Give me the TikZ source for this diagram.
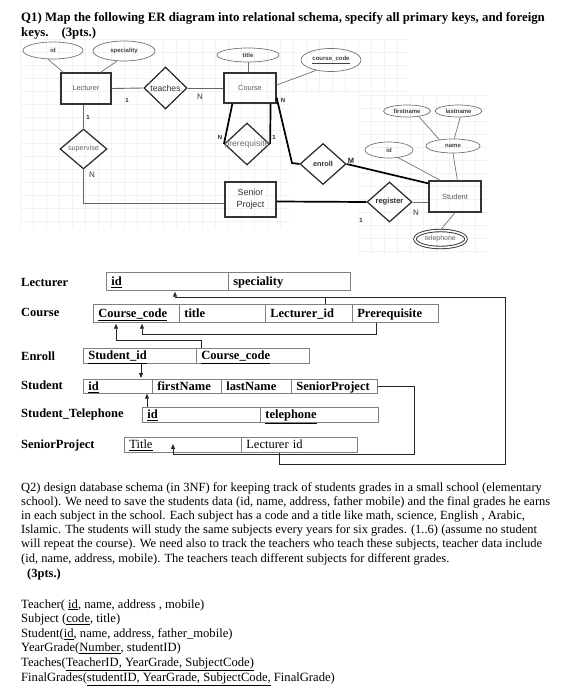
\documentclass[tikz,border=0pt]{standalone}
\usepackage{fontspec}
\setmainfont{Liberation Serif}
\newfontfamily\ersans{Liberation Sans}
\usetikzlibrary{shapes.geometric,arrows.meta,calc}
\newcommand\fsz[1]{\fontsize{#1}{#1}\selectfont}
\begin{document}
\begin{tikzpicture}[x=1pt,y=-1pt,
  ent/.style={draw=black!80, line width=1.2pt, rectangle, inner sep=0pt, font=\ersans\fsz{7.3}, text=black!65},
  rel/.style={draw=black!85, line width=1.2pt, diamond, inner sep=0pt},
  reltext/.style={inner sep=0pt, font=\ersans\fsz{8.6}, text=black!80},
  attr/.style={draw=black!55, line width=0.7pt, ellipse, inner sep=0pt, font=\ersans\bfseries\fsz{6}, text=black!75},
  aline/.style={draw=black!55, line width=0.7pt},
  rline/.style={draw=black!60, line width=0.9pt},
  tline/.style={draw=black, line width=1.7pt},
  card/.style={font=\ersans\fsz{8}, text=black!80, inner sep=0pt},
  one/.style={font=\ersans\bfseries\fsz{6}, text=black!85, inner sep=0pt},
  cell/.style={draw=black!50, line width=0.7pt, anchor=north west, inner xsep=5pt, inner ysep=0pt, align=left, text height=9.5pt, text depth=1.5pt, font=\bfseries\fsz{12.5}},
  tlabel/.style={anchor=base west, inner sep=0pt, font=\bfseries\fsz{12.5}},
  fk/.style={draw=black!85, line width=0.8pt},
  fka/.style={fk, -{Triangle[length=5pt,width=4pt]}},
  para/.style={anchor=base west, inner sep=0pt, font=\fsz{12.5}},
  lst/.style={anchor=base west, inner sep=0pt, font=\fsz{12.6}},
  gridbg/.style={draw=black!5, line width=0.4pt},
]
\useasboundingbox (0,0) rectangle (566,700);
\fill[white] (0,0) rectangle (566,700);

% faint background grid of the screenshot
\foreach \gx in {20,33,...,290} \draw[gridbg] (\gx,39) -- (\gx,228);
\foreach \gy in {39,52,...,228} \draw[gridbg] (20,\gy) -- (290,\gy);
\foreach \gx in {293,306,...,408} \draw[gridbg] (\gx,39) -- (\gx,93);
\foreach \gy in {39,52,...,93} \draw[gridbg] (290,\gy) -- (408,\gy);
\foreach \gx in {358,371,...,487} \draw[gridbg] (\gx,95) -- (\gx,254);
\foreach \gy in {95,108,...,254} \draw[gridbg] (358,\gy) -- (487,\gy);

% ---------- title ----------
\node[para, font=\bfseries\fsz{12.8}] (q1a) at (21,22) {Q1) Map the following ER diagram into relational schema, specify all primary keys, and foreign};
\node[para, font=\bfseries\fsz{12.8}] (q1b) at (21,37) {keys.\hspace{13pt}(3pts.)};

% ---------- ER diagram ----------
\node[attr, minimum width=60pt, minimum height=17pt] (idL) at (53,50.5) {id};
\node[attr, minimum width=62pt, minimum height=20pt] (specL) at (124,51) {speciality};
\node[ent, minimum width=50pt, minimum height=31pt] (lect) at (86,88.5) {Lecturer};
\node[rel, minimum width=43pt, minimum height=42pt] (teaches) at (165.5,88) {};
\node[reltext] (teachesT) at (teaches.center) {teaches};
\node[ent, minimum width=52pt, minimum height=30pt] (course) at (250,88) {Course};
\node[attr, minimum width=62pt, minimum height=14pt] (titleA) at (248,55) {title};
\node[attr, minimum width=60pt, minimum height=23pt] (ccA) at (331,60) {\underline{course\_code}};
\node[rel, minimum width=45pt, minimum height=42pt] (prereq) at (247,144) {};
\node[reltext, text=black!55] (prereqT) at (prereq.center) {prerequisite};
\node[rel, minimum width=47pt, minimum height=40pt] (superv) at (83.5,149) {};
\node[reltext, font=\ersans\fsz{7.2}, text=black!60] (supervT) at (superv.center) {supervise};
\node[ent, minimum width=51pt, minimum height=35pt, align=center, font=\ersans\fontsize{8.9}{12}\selectfont, text=black!80] (sp) at (250.5,199.5) {Senior\\Project};
\node[rel, minimum width=46pt, minimum height=41pt] (enroll) at (323,164) {};
\node[reltext, font=\ersans\bfseries\fsz{7.3}] (enrollT) at (enroll.center) {enroll};
\node[rel, minimum width=45pt, minimum height=40pt] (register) at (389.5,202) {};
\node[reltext, font=\ersans\bfseries\fsz{7.6}] (registerT) at (register.center) {register};
\node[ent, minimum width=52pt, minimum height=31pt, font=\ersans\fsz{7.5}] (student) at (455,196.5) {Student};
\node[attr, minimum width=48pt, minimum height=16pt] (sidA) at (389,150) {id};
\node[attr, minimum width=54pt, minimum height=14pt] (nameA) at (453,146) {name};
\node[attr, minimum width=47pt, minimum height=12pt] (fnA) at (407,111) {firstname};
\node[attr, minimum width=47pt, minimum height=12pt] (lnA) at (458.5,111) {lastname};
\node[attr, draw=black!80, line width=0.9pt, double, double distance=1.6pt, minimum width=51pt, minimum height=17pt, font=\ersans\fsz{7}, text=black!60] (tel) at (440.5,239) {telephone};

% ER connectors
\draw[aline] (idL.-120) -- ($(lect.north west)+(3,0)$);
\draw[aline] (specL.-125) -- ($(lect.north east)+(-11,0)$);
\draw[rline] (lect.east) -- (teaches.west);
\draw[rline] (teaches.east) -- (teaches.east -| course.west);
\draw[aline] (titleA.south) -- (titleA.south |- course.north);
\draw[aline] (ccA.-145) -- ($(course.east)+(0,-3)$);
\coordinate (enrK) at (292,163);
\draw[tline] ($(course.south east)+(0,-6)$) -- (enrK) -- (enroll.west);
\draw[tline] (enroll.east) -- ($(student.north west)+(0,3)$);
\draw[tline] ($(course.south west)+(9,0)$) -- (prereq.west);
\draw[tline] ($(course.south east)+(-6,0)$) -- (prereq.east);
\draw[rline] (superv.north) -- (superv.north |- lect.south);
\draw[rline] (superv.south) |- ($(sp.west)+(0,4)$);
\draw[tline] ($(sp.east)+(0,2)$) -- (register.west);
\draw[aline] (register.east) -- (register.east -| student.west);
\draw[aline] (sidA.-40) -- ($(student.north west)+(12,0)$);
\draw[aline] (nameA.south) -- ($(student.north west)+(29,0)$);
\draw[aline] (fnA.-25) -- (nameA.155);
\draw[aline] (lnA.-75) -- (nameA.80);
\draw[aline] (student.south) -- (tel.north);

% cardinalities
\node[one] (c1) at (127,100) {1};
\node[card] (c2) at (200,97) {N};
\node[one] (c3) at (88,117) {1};
\node[card] (c4) at (92,175) {N};
\node[one] (c5) at (283,100) {N};
\node[one] (c6) at (220,137) {N};
\node[one] (c7) at (274,137) {1};
\node[one, font=\ersans\bfseries\fsz{7.5}] (c8) at (351,161) {M};
\node[card] (c9) at (416,213) {N};
\node[one] (c10) at (361,220) {1};

% ---------- relational schema ----------
\node[tlabel] (tL) at (21,286) {Lecturer};
\node[tlabel] (tC) at (21,316) {Course};
\node[tlabel] (tE) at (21,360) {Enroll};
\node[tlabel] (tS) at (21,389) {Student};
\node[tlabel] (tT) at (21,417) {Student\_Telephone};
\node[tlabel] (tP) at (21,448) {SeniorProject};

\node[cell, text width=112pt, minimum height=18pt] (lid) at (106,272) {\underline{id}};
\node[cell, text width=112pt, minimum height=18pt] (lsp) at (228,272) {speciality};

\node[cell, text width=76pt, minimum height=18pt] (ccode) at (93,304) {\underline{Course\_code}};
\node[cell, text width=76pt, minimum height=18pt] (ctitle) at (179,304) {title};
\node[cell, text width=77pt, minimum height=18pt] (clid) at (265,304) {Lecturer\_id};
\node[cell, text width=76pt, minimum height=18pt] (cpre) at (352,304) {Prerequisite};

\node[cell, text width=103pt, minimum height=15pt] (esid) at (83,348) {\underline{Student\_id}};
\node[cell, text width=103pt, minimum height=15pt] (ecc) at (196,348) {\underline{Course\_code}};

\node[cell, text width=59pt, minimum height=14pt] (sid) at (83,379) {\underline{id}};
\node[cell, text width=59pt, minimum height=14pt] (sfn) at (152,379) {firstName};
\node[cell, text width=60pt, minimum height=14pt] (sln) at (221,379) {lastName};
\node[cell, text width=76pt, minimum height=14pt] (ssp) at (291,379) {SeniorProject};

\node[cell, text width=108pt, minimum height=15pt] (tid) at (142,407) {\underline{id}};
\node[cell, text width=108pt, minimum height=15pt] (ttel) at (260,407) {\underline{telephone}};

\node[cell, text width=107pt, minimum height=15pt, font=\mdseries\fsz{12.5}] (ptitle) at (124,437) {\underline{Title}};
\node[cell, text width=106pt, minimum height=15pt, font=\mdseries\fsz{12.5}] (plid) at (241,437) {Lecturer id};

% foreign-key connectors
\coordinate (fkJ) at ($(clid.north west)+(60,-7)$);
\coordinate (fkR) at (505,464);
\coordinate (fkS) at (414,454);
\draw[fka] ($(clid.north west)+(60,0)$) -- (fkJ) -| ($(lid.south west)+(69,1)$);
\draw[fk] ($(plid.south west)+(38,0)$) |- (fkR) |- (fkJ);
\draw[fka] ($(ecc.north west)+(5,0)$) -- ++(0,-8) -| ($(ccode.south west)+(23,1)$);
\draw[fka] ($(cpre.south west)+(24,0)$) -- ++(0,12) -| ($(ccode.south west)+(49,1)$);
\draw[fka] ($(esid.south west)+(58,0)$) -- ($(sid.north west)+(58,-1)$);
\draw[fka] ($(tid.north west)+(5,0)$) -- ($(sid.south west)+(64,0)$);
\draw[fka] (ssp.east) -| (fkS) -| ($(ptitle.north west)+(49,7)$);

% ---------- Q2 ----------
\node[para] (p1) at (21,491) {Q2) design database schema (in 3NF) for keeping track of students grades in a small school (elementary};
\node[para] (p2) at (21,505.2) {school). We need to save the students data (id, name, address, father mobile) and the final grades he earns};
\node[para] (p3) at (21,519.4) {in each subject in the school. Each subject has a code and a title like math, science, English , Arabic,};
\node[para] (p4) at (21,533.6) {Islamic. The students will study the same subjects every years for six grades. (1..6) (assume no student};
\node[para] (p5) at (21,547.8) {will repeat the course). We need also to track the teachers who teach these subjects, teacher data include};
\node[para] (p6) at (21,562) {(id, name, address, mobile). The teachers teach different subjects for different grades.};
\node[para, font=\bfseries\fsz{12.5}] (p7) at (27,577) {(3pts.)};

\node[lst] (a1) at (21,608) {Teacher( \underline{id}, name, address , mobile)};
\node[lst] (a2) at (21,622.6) {Subject (\underline{code}, title)};
\node[lst] (a3) at (21,637.2) {Student(\underline{id}, name, address, father\_mobile)};
\node[lst] (a4) at (21,651.8) {YearGrade(\underline{Number}, studentID)};
\node[lst] (a5) at (21,666.4) {Teaches(\underline{TeacherID, YearGrade, SubjectCode)}};
\node[lst] (a6) at (21,681) {FinalGrades(\underline{studentID, YearGrade, SubjectCode,} FinalGrade)};
\end{tikzpicture}
\end{document}
